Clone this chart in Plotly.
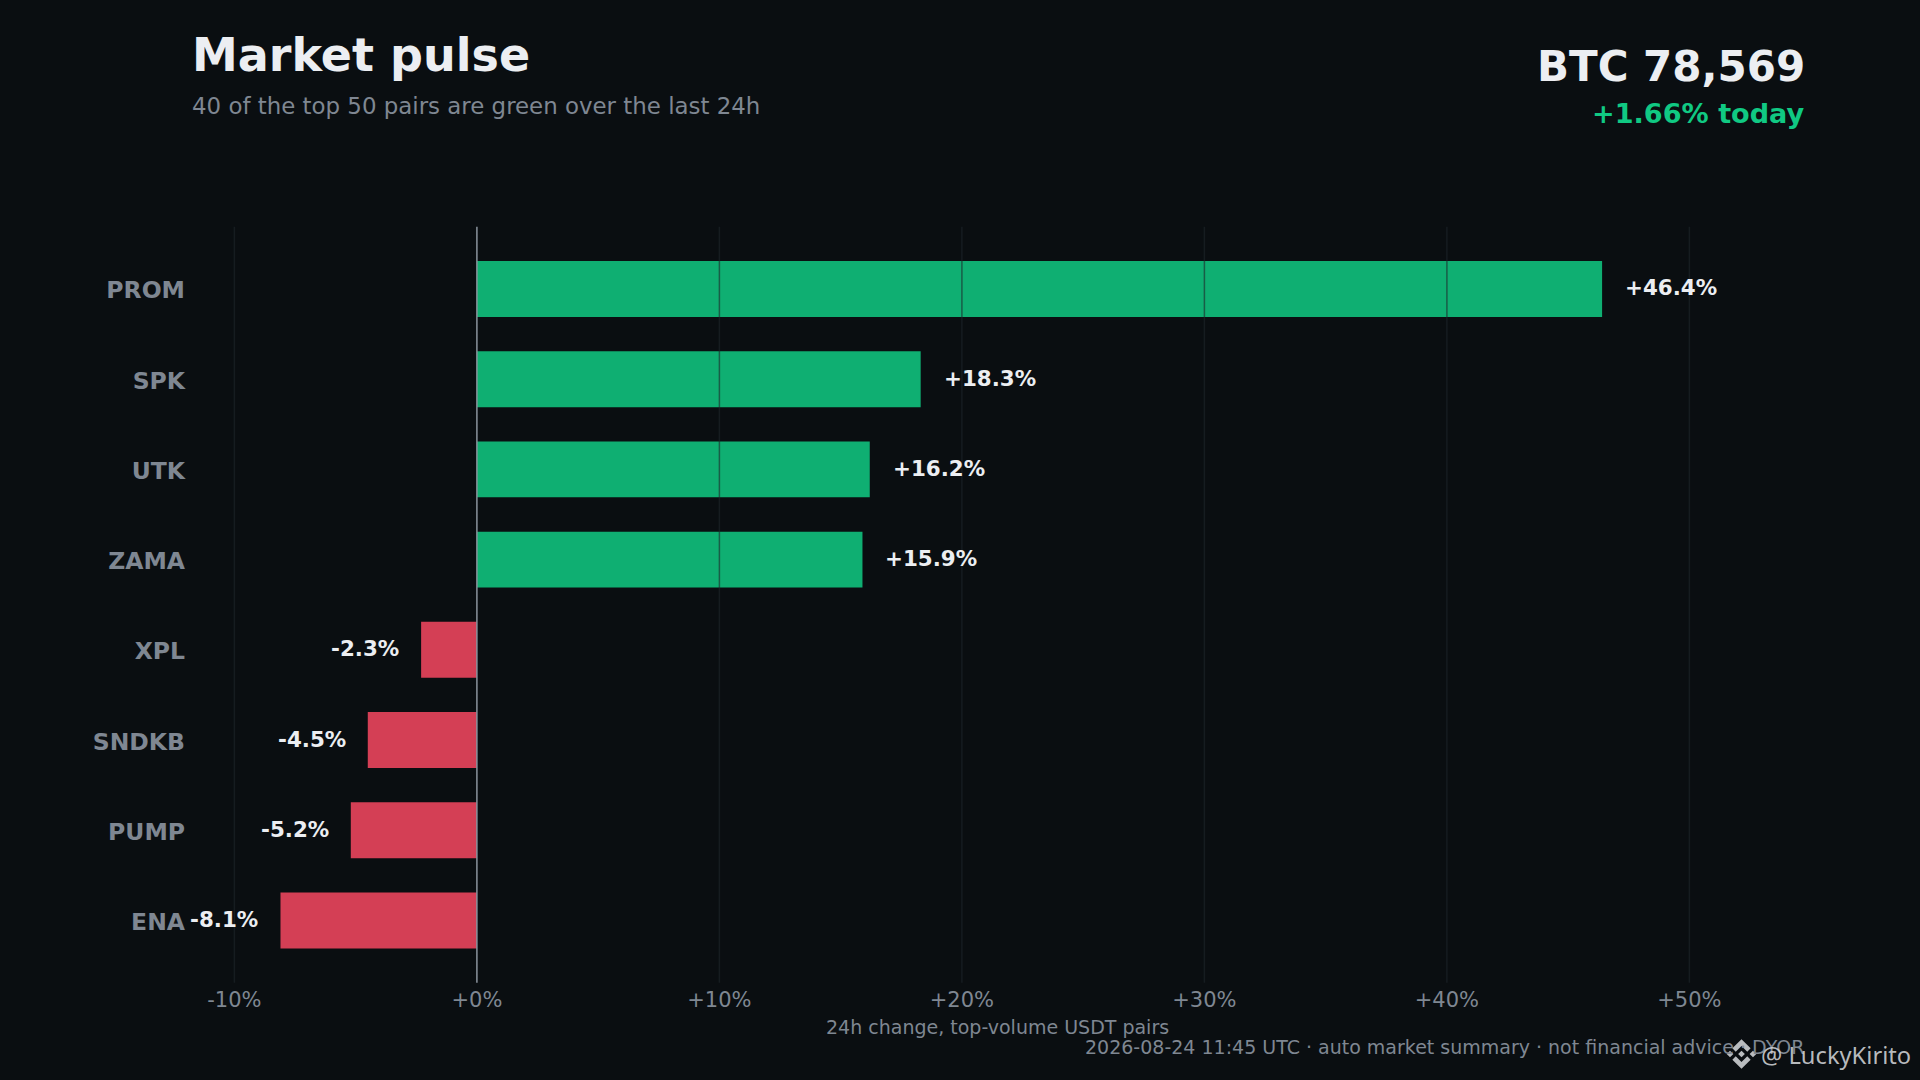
import plotly.graph_objects as go

# 24h change per pair, top row first
symbols = ["PROM", "SPK", "UTK", "ZAMA", "XPL", "SNDKB", "PUMP", "ENA"]
changes = [46.4, 18.3, 16.2, 15.9, -2.3, -4.5, -5.2, -8.1]

tick_values = [-10, 0, 10, 20, 30, 40, 50]
tick_labels = ["-10%", "+0%", "+10%", "+20%", "+30%", "+40%", "+50%"]

BG = "#0a0e11"
GREEN = "#0faf72"
RED = "#d43f55"
MUTED = "#7f8792"
BRIGHT = "#eceef2"
FONT = "DejaVu Sans"
W, H = 1920, 1080

# plot area in page pixels
left, right = 186, 1750
top, bottom = 226.7, 982.7
px_per_unit = 24.25
x_zero = 476.9


def to_unit(px):
    return (px - x_zero) / px_per_unit


fig = go.Figure()

fig.add_trace(go.Bar(
    x=changes,
    y=symbols,
    orientation="h",
    width=0.62,
    marker=dict(color=[GREEN if v >= 0 else RED for v in changes], line=dict(width=0)),
    showlegend=False,
))

# invisible copy on a second axis, only there to nudge the symbol labels down a little
fig.add_trace(go.Bar(
    x=changes,
    y=symbols,
    yaxis="y2",
    orientation="h",
    width=0.62,
    marker=dict(opacity=0),
    hoverinfo="skip",
    showlegend=False,
))

# value labels next to each bar
for sym, val in zip(symbols, changes):
    fig.add_annotation(
        x=val, y=sym, xref="x", yref="y",
        text=f"{val:+.1f}%",
        showarrow=False,
        xanchor="left" if val >= 0 else "right",
        xshift=21 if val >= 0 else -20,
        yshift=1,
        font=dict(family=FONT, size=21.4, color=BRIGHT, weight="bold"),
    )

# gridlines sit on top of the bars in the original
for t in tick_values:
    fig.add_shape(
        type="line", xref="x", yref="y domain",
        x0=t, x1=t, y0=0, y1=1, layer="above",
        line=dict(width=1.5, color="#8b949e" if t == 0 else "rgba(30,38,44,0.6)"),
    )

fig.update_xaxes(
    range=[to_unit(left), to_unit(right)],
    tickvals=tick_values, ticktext=tick_labels,
    tickfont=dict(family=FONT, size=21, color=MUTED),
    ticklabelstandoff=2,
    showgrid=False, zeroline=False, showline=False, ticks="",
    domain=[left / W, right / W],
)
fig.update_yaxes(
    categoryorder="array", categoryarray=symbols[::-1],
    range=[-0.69, 7.69],
    showticklabels=False,
    showgrid=False, zeroline=False, showline=False, ticks="",
    domain=[1 - bottom / H, 1 - top / H],
    automargin=False,
)


def page_text(x, y, text, size, color, anchor="left", weight="normal", family=FONT):
    fig.add_annotation(
        x=x / W, y=1 - y / H, xref="paper", yref="paper",
        text=text, showarrow=False,
        xanchor=anchor, yanchor="middle",
        font=dict(family=family, size=size, color=color, weight=weight),
    )


page_text(189.6, 55, "Market pulse", 46, BRIGHT, weight="bold")
page_text(189.8, 106, "40 of the top 50 pairs are green over the last 24h", 22.9, MUTED)
page_text(1807, 67, "BTC 78,569", 42, BRIGHT, "right", "bold")
page_text(1807, 113, "+1.66% today", 27.1, "#10c983", "right", "bold")
page_text(997.5, 1027, "24h change, top-volume USDT pairs", 19, MUTED, "center")
page_text(1806, 1047, "2026-08-24 11:45 UTC · auto market summary · not financial advice · DYOR", 19, MUTED, "right")
page_text(1759, 1055, "@ LuckyKirito", 23.7, "rgba(216,218,222,0.85)", "left", family="Noto Sans")

# exchange logo next to the watermark
LOGO_PARTS = [
    [(38.7, 53.2), (63, 28.9), (87.3, 53.2), (101.4, 39.1), (63, 0.7), (24.6, 39.1)],
    [(0.7, 63), (14.8, 48.9), (28.9, 63), (14.8, 77.1)],
    [(48.9, 63), (63, 48.9), (77.1, 63), (63, 77.1)],
    [(97.1, 63), (111.2, 48.9), (125.3, 63), (111.2, 77.1)],
    [(38.7, 72.8), (63, 97.1), (87.3, 72.8), (101.4, 86.9), (63, 125.3), (24.6, 86.9)],
]
logo_x, logo_y, logo_size = 1726.5, 1039, 30
for part in LOGO_PARTS:
    pts = [((logo_x + px / 126 * logo_size) / W, 1 - (logo_y + py / 126 * logo_size) / H) for px, py in part]
    path = "M " + " L ".join(f"{a:.5f},{b:.5f}" for a, b in pts) + " Z"
    fig.add_shape(type="path", xref="paper", yref="paper", path=path,
                  fillcolor="rgba(216,218,222,0.85)", line=dict(width=0), layer="above")

fig.update_layout(
    width=W, height=H,
    autosize=False,
    margin=dict(l=0, r=0, t=0, b=0),
    paper_bgcolor=BG,
    plot_bgcolor=BG,
    bargap=0.38,
    showlegend=False,
    yaxis2=dict(
        overlaying="y", anchor="x", side="left",
        categoryorder="array", categoryarray=symbols[::-1],
        range=[-0.69 + 0.014, 7.69 + 0.014],
        tickfont=dict(family=FONT, size=23.5, color=MUTED, weight="bold"),
        showgrid=False, zeroline=False, showline=False, ticks="",
    ),
)

fig.write_html(
    "out.html",
    config=dict(displayModeBar=False),
    post_script=f"document.body.style.margin='0';document.body.style.background='{BG}';",
)
